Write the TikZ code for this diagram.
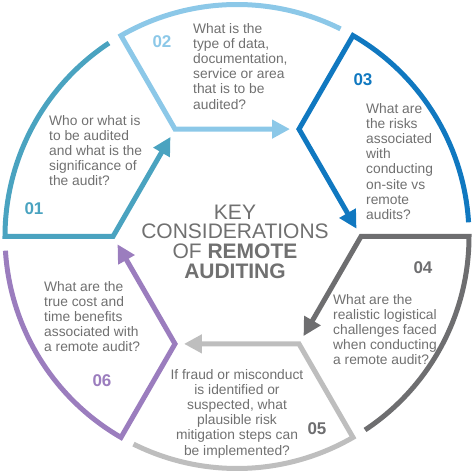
\documentclass[tikz,border=0pt]{standalone}
\usepackage{fontspec}
\setmainfont{Liberation Sans}
\usetikzlibrary{arrows.meta}
\definecolor{cA}{RGB}{74,163,192}
\definecolor{cB}{RGB}{140,200,232}
\definecolor{cC}{RGB}{16,120,192}
\definecolor{cD}{RGB}{110,110,112}
\definecolor{cE}{RGB}{190,190,190}
\definecolor{cF}{RGB}{155,125,190}
\definecolor{txtgray}{RGB}{112,112,112}
\begin{document}
\begin{tikzpicture}[x=1pt,y=1pt,
  seg/.style={line width=5pt, line join=miter, -{Triangle[length=18pt,width=18pt]}, shorten >=9pt},
  qtext/.style={inner sep=0pt, align=left, anchor=north west, text=txtgray, font=\fontsize{13.8}{15.2}\selectfont},
  num/.style={inner sep=0pt, font=\fontsize{17}{17}\selectfont\bfseries},
  title/.style={inner sep=0pt, align=center, text=txtgray, font=\fontsize{21}{19.7}\selectfont}
]
\useasboundingbox (-237,-236.5) rectangle (237,236.5);
\def\R{232}
\def\ri{124}
\foreach \k/\a in {1/180,2/120,3/60,4/0,5/-60,6/-120}{
  \coordinate (o\k) at (\a:\R);
  \coordinate (i\k) at (\a:\ri);
  \coordinate (f\k) at ({\a-56.5}:\R);
}
% segments
\draw[seg,cA] (f1) arc[start angle=123.5,end angle=180,radius=\R] -- (i1) -- (i2);
\draw[seg,cB] (f2) arc[start angle=63.5,end angle=120,radius=\R] -- (i2) -- (i3);
\draw[seg,cC] (f3) arc[start angle=3.5,end angle=60,radius=\R] -- (i3) -- (i4);
\draw[seg,cD] (f4) arc[start angle=-56.5,end angle=0,radius=\R] -- (i4) -- (i5);
\draw[seg,cE] (f5) arc[start angle=-116.5,end angle=-60,radius=\R] -- (i5) -- (i6);
\draw[seg,cF] (f6) arc[start angle=-176.5,end angle=-120,radius=\R] -- (i6) -- (i1);
% numbers
\node[num,text=cA] (n1) at (-203,27.5) {01};
\node[num,text=cB] (n2) at (-75,194.5) {02};
\node[num,text=cC] (n3) at (126,156.5) {03};
\node[num,text=cD] (n4) at (186,-31.5) {04};
\node[num,text=cD] (n5) at (80,-192.5) {05};
\node[num,text=cF] (n6) at (-135,-144.5) {06};
% questions
\node[qtext] (q1) at (-188,121.5) {Who or what is\\to be audited\\and what is the\\significance of\\the audit?};
\node[qtext] (q2) at (-44,213.5) {What is the\\type of data,\\documentation,\\service or area\\that is to be\\audited?};
\node[qtext] (q3) at (129,133.5) {What are\\the risks\\associated\\with\\conducting\\on-site vs\\remote\\audits?};
\node[qtext] (q4) at (96,-57.5) {What are the\\realistic logistical\\challenges faced\\when conducting\\a remote audit?};
\node[qtext,align=center,anchor=north] (q5) at (0,-132.5) {If fraud or misconduct\\is identified or\\suspected, what\\plausible risk\\mitigation steps can\\be implemented?};
\node[qtext] (q6) at (-193,-44.5) {What are the\\true cost and\\time benefits\\associated with\\a remote audit?};
% title
\node[title] (t) at (-2,-5) {KEY\\CONSIDERATIONS\\OF \textbf{REMOTE}\\\textbf{AUDITING}};
\end{tikzpicture}
\end{document}
